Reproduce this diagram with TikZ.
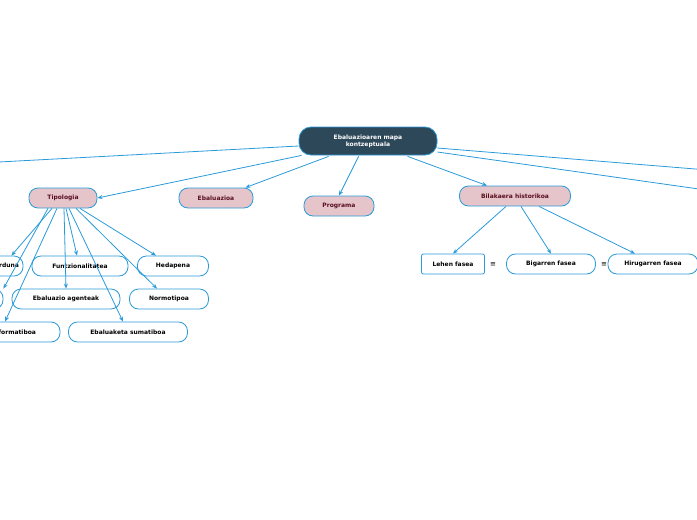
\documentclass[tikz,border=0pt]{standalone}
\usepackage{fontspec}
\setmainfont{DejaVu Sans}
\usetikzlibrary{arrows.meta}
\definecolor{lb}{HTML}{2A9AD9}
\definecolor{rootc}{HTML}{2D4859}
\definecolor{pinkc}{HTML}{E5C5CA}
\definecolor{redt}{HTML}{5A0F1F}
\begin{document}
\begin{tikzpicture}[x=1pt,y=-1pt,
 base/.style={draw=lb,line width=0.8pt,rounded corners=9pt,font=\bfseries\fontsize{6}{7}\selectfont,inner sep=0pt,align=center},
 rootn/.style={base,fill=rootc,text=white,minimum width=138pt,minimum height=28pt,rounded corners=12pt},
 cat/.style={base,fill=pinkc,text=redt,minimum height=20pt},
 leaf/.style={base,fill=white,text=black,minimum height=20pt},
 con/.style={lb,line width=0.8pt,-{Stealth[length=5pt,width=4pt]}}]
\useasboundingbox (0,0) rectangle (697,520);
\clip (0,0) rectangle (697,520);
\node[rootn] (root) at (368,141) {Ebaluazioaren mapa\\kontzeptuala};
\node[cat,minimum width=68pt] (tip) at (63,198) {Tipologia};
\node[cat,minimum width=74pt] (eba) at (216,198) {Ebaluazioa};
\node[cat,minimum width=70pt] (prog) at (339,206) {Programa};
\node[cat,minimum width=111pt] (bil) at (515,196) {Bilakaera historikoa};
\node[leaf,minimum width=63pt,rounded corners=2pt] (leh) at (453,264) {Lehen fasea};
\node[leaf,minimum width=89pt] (big) at (551,264) {Bigarren fasea};
\node[leaf,minimum width=90pt] (hir) at (653,264) {Hirugarren fasea};
\node[font=\fontsize{7}{8}\selectfont] (m1) at (493,265) {≡};
\node[font=\fontsize{7}{8}\selectfont] (m2) at (604,265) {≡};
\node[leaf,minimum width=74pt,text width=66pt,align=right] (una) at (-14,266) {Jarduna};
\node[leaf,minimum width=96pt] (fun) at (80,266) {Funtzionalitatea};
\node[leaf,minimum width=71pt] (hed) at (173,266) {Hedapena};
\node[leaf,minimum width=60pt] (l2) at (-27,299) {};
\node[leaf,minimum width=108pt] (age) at (66,299) {Ebaluazio agenteak};
\node[leaf,minimum width=79pt] (nor) at (169,299) {Normotipoa};
\node[leaf,minimum width=120pt] (for) at (0,332) {Ebaluazio formatiboa};
\node[leaf,minimum width=119pt] (sum) at (128,332) {Ebaluaketa sumatiboa};
\coordinate (offl) at (-20,163);
\coordinate (offr1) at (720,171);
\coordinate (offr2) at (720,192);
\draw[con] (root.west) ++(0,5) -- (offl);
\draw[con] (root.east) ++(0,7) -- (offr1);
\draw[con] (root.east) ++(0,11) -- (offr2);
\draw[con] (root.south west) ++(3,0) -- (tip.east);
\draw[con] (root.south west) ++(30,1) -- ([xshift=-8pt]eba.north east);
\draw[con] (root.south west) ++(60,1) -- (prog.north);
\draw[con] (root.south west) ++(109,1) -- ([xshift=-28pt]bil.north);
\draw[con] (bil.south) ++(-9,0) -- (leh.north);
\draw[con] (bil.south) ++(6,0) -- (big.north);
\draw[con] (bil.south) ++(24,0) -- ([xshift=-18pt]hir.north);
\draw[con] (tip.south) ++(-15,0) -- (l2.north east);
\draw[con] (tip.south) ++(-11,0) -- ([xshift=-12pt]una.north east);
\draw[con] (tip.south) ++(-6,0) -- ([xshift=5pt]for.north);
\draw[con] (tip.south) ++(1,0) -- (age.north);
\draw[con] (tip.south) ++(3,0) -- ([xshift=-3pt]fun.north);
\draw[con] (tip.south) ++(6,0) -- ([xshift=-5pt]sum.north);
\draw[con] (tip.south) ++(13,0) -- ([xshift=-12pt]nor.north);
\draw[con] (tip.south) ++(17,0) -- ([xshift=-17pt]hed.north);
\end{tikzpicture}
\end{document}
